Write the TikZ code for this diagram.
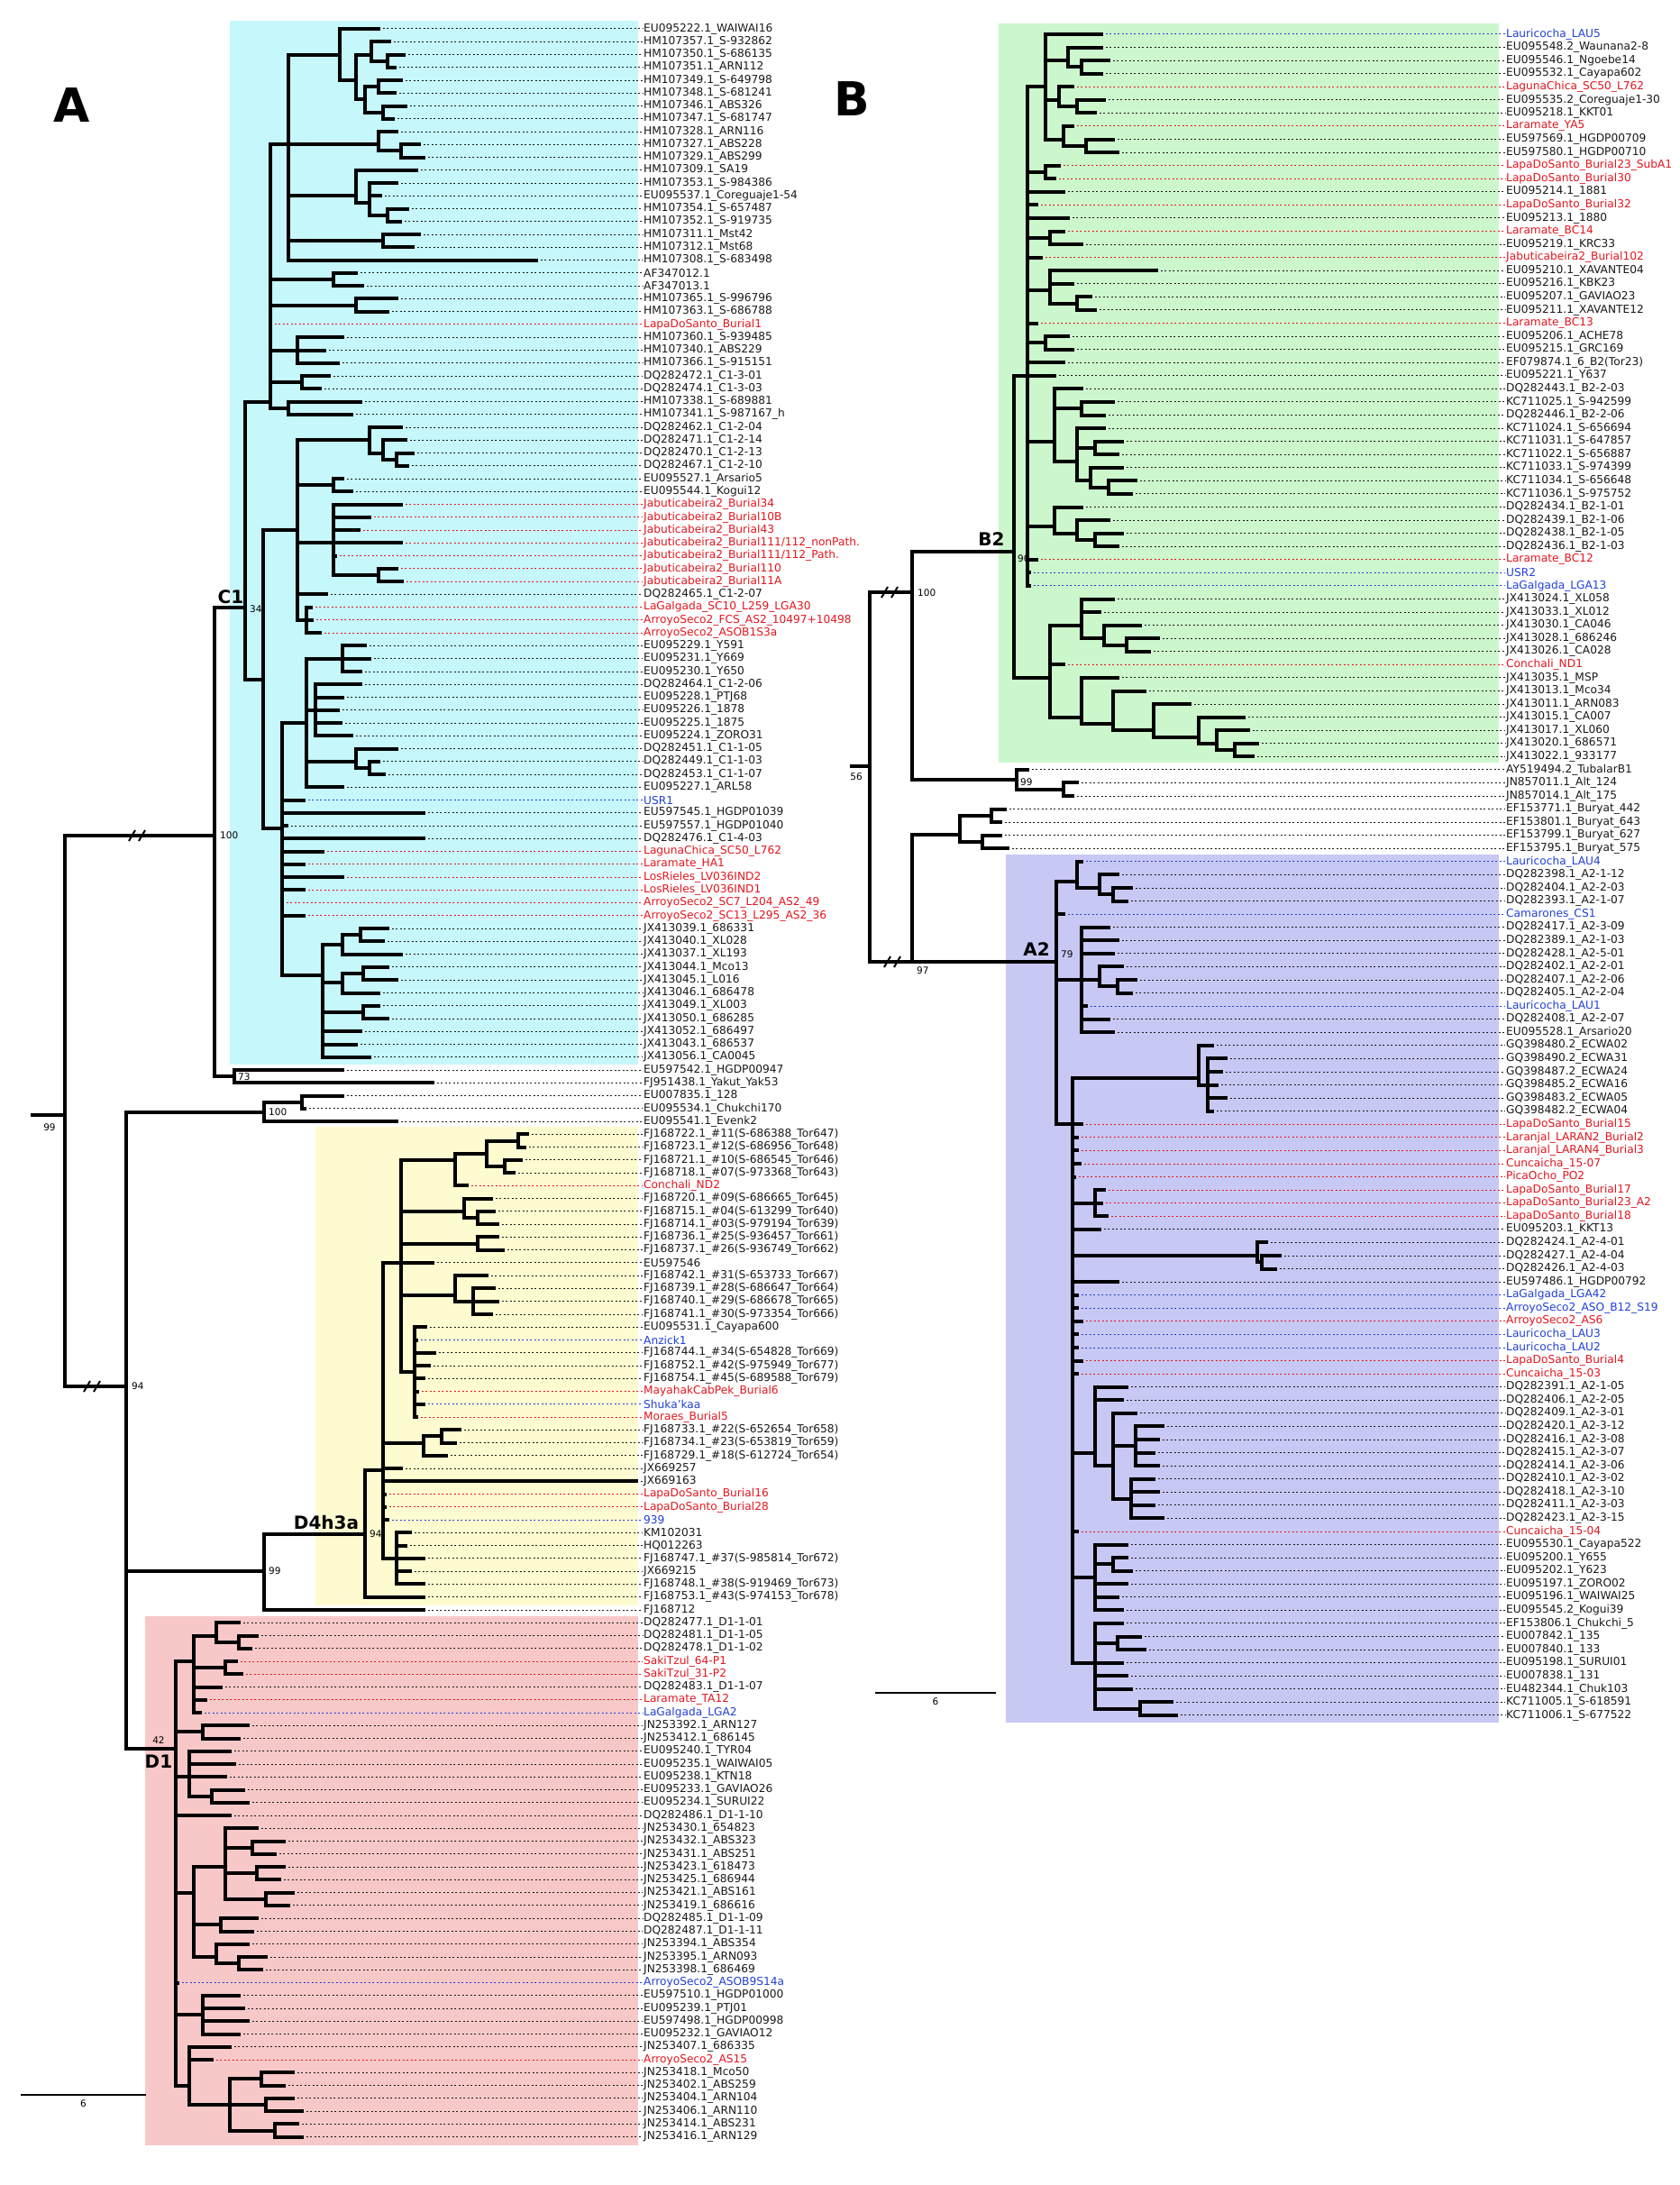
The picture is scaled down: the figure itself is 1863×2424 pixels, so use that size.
\documentclass[tikz,border=0pt]{standalone}
\usepackage{fontspec}
\setmainfont{DejaVu Sans}
\definecolor{lk}{RGB}{25,25,25}
\definecolor{lr}{RGB}{226,22,30}
\definecolor{lb}{RGB}{32,64,214}
\definecolor{boxc}{RGB}{198,247,251}
\definecolor{boxy}{RGB}{255,251,208}
\definecolor{boxp}{RGB}{248,200,200}
\definecolor{boxg}{RGB}{204,247,204}
\definecolor{boxv}{RGB}{200,200,245}

\begin{document}
\begin{tikzpicture}
[x=1pt,y=-1pt,
br/.style={black,line width=4pt,line cap=rect},
lead/.style={line width=1pt,dash pattern=on 2pt off 2.5pt},
lab/.style={anchor=west,inner sep=1pt,font=\fontsize{12.2}{14}\selectfont},
boot/.style={inner sep=1pt,font=\fontsize{10.5}{12}\selectfont},
clade/.style={inner sep=1pt,font=\fontsize{20}{24}\selectfont\bfseries},
panel/.style={inner sep=0pt,font=\fontsize{52}{56}\selectfont\bfseries},
brk/.style={black,line width=2pt},
declare function={ya(\n)=32+(\n-1)*14.26; yb(\n)=38+(\n-1)*14.57;}]
\useasboundingbox (0,0) rectangle (1863,2424);
\fill[white] (0,0) rectangle (1863,2424);
%% clade boxes
\fill[boxc] (255,23) rectangle (708,1181);
\fill[boxy] (350,1250) rectangle (708,1781);
\fill[boxp] (161,1793) rectangle (708,2380);
\fill[boxg] (1108,26) rectangle (1663,846);
\fill[boxv] (1116,948) rectangle (1663,1911);
%%
\node[panel] (pa) at (80,117) {A};
\node[panel] (pb) at (945,110) {B};
%% tree A: leaves
\foreach \col/\pa/\tp/\txt [count=\i] in {
lk/377/420/EU095222.1\_WAIWAI16, lk/412/432/HM107357.1\_S-932862,
lk/430/448/HM107350.1\_S-686135, lk/430/438/HM107351.1\_ARN112,
lk/420/445/HM107349.1\_S-649798, lk/420/438/HM107348.1\_S-681241,
lk/425/450/HM107346.1\_ABS326, lk/425/436/HM107347.1\_S-681747,
lk/420/440/HM107328.1\_ARN116, lk/445/465/HM107327.1\_ABS228,
lk/445/470/HM107329.1\_ABS299, lk/395/462/HM107309.1\_SA19,
lk/410/440/HM107353.1\_S-984386, lk/410/422/EU095537.1\_Coreguaje1-54,
lk/430/452/HM107354.1\_S-657487, lk/430/444/HM107352.1\_S-919735,
lk/425/465/HM107311.1\_Mst42, lk/425/458/HM107312.1\_Mst68,
lk/320/595/HM107308.1\_S-683498, lk/370/395/AF347012.1,
lk/370/402/AF347013.1, lk/395/440/HM107365.1\_S-996796,
lk/395/430/HM107363.1\_S-686788, lr/300/300/LapaDoSanto\_Burial1,
lk/330/380/HM107360.1\_S-939485, lk/330/360/HM107340.1\_ABS229,
lk/330/375/HM107366.1\_S-915151, lk/335/365/DQ282472.1\_C1-3-01,
lk/335/355/DQ282474.1\_C1-3-03, lk/320/400/HM107338.1\_S-689881,
lk/320/390/HM107341.1\_S-987167\_h, lk/410/445/DQ282462.1\_C1-2-04,
lk/425/450/DQ282471.1\_C1-2-14, lk/440/458/DQ282470.1\_C1-2-13,
lk/440/452/DQ282467.1\_C1-2-10, lk/370/380/EU095527.1\_Arsario5,
lk/370/390/EU095544.1\_Kogui12, lr/370/445/Jabuticabeira2\_Burial34,
lr/370/410/Jabuticabeira2\_Burial10B, lr/370/398/Jabuticabeira2\_Burial43,
lr/370/445/{Jabuticabeira2\_Burial111/112\_nonPath.},
lr/370/372/{Jabuticabeira2\_Burial111/112\_Path.},
lr/420/440/Jabuticabeira2\_Burial110, lr/420/446/Jabuticabeira2\_Burial11A,
lk/330/362/DQ282465.1\_C1-2-07, lr/340/345/LaGalgada\_SC10\_L259\_LGA30,
lr/340/346/ArroyoSeco2\_FCS\_AS2\_10497+10498, lr/340/355/ArroyoSeco2\_ASOB1S3a,
lk/380/405/EU095229.1\_Y591, lk/380/410/EU095231.1\_Y669,
lk/380/400/EU095230.1\_Y650, lk/350/400/DQ282464.1\_C1-2-06,
lk/350/380/EU095228.1\_PTJ68, lk/350/375/EU095226.1\_1878,
lk/350/378/EU095225.1\_1875, lk/350/390/EU095224.1\_ZORO31,
lk/395/440/DQ282451.1\_C1-1-05, lk/410/420/DQ282449.1\_C1-1-03,
lk/410/426/DQ282453.1\_C1-1-07, lk/340/380/EU095227.1\_ARL58,
lb/313/337/USR1, lk/313/470/EU597545.1\_HGDP01039,
lk/313/318/EU597557.1\_HGDP01040, lk/313/470/DQ282476.1\_C1-4-03,
lr/313/358/LagunaChica\_SC50\_L762, lr/313/337/Laramate\_HA1,
lr/313/380/LosRieles\_LV036IND2, lr/313/337/LosRieles\_LV036IND1,
lr/313/313/ArroyoSeco2\_SC7\_L204\_AS2\_49, lr/313/337/ArroyoSeco2\_SC13\_L295\_AS2\_36,
lk/400/430/JX413039.1\_686331, lk/400/425/JX413040.1\_XL028,
lk/380/445/JX413037.1\_XL193, lk/403/430/JX413044.1\_Mco13,
lk/403/440/JX413045.1\_L016, lk/380/420/JX413046.1\_686478,
lk/403/420/JX413049.1\_XL003, lk/403/430/JX413050.1\_686285,
lk/358/400/JX413052.1\_686497, lk/358/395/JX413043.1\_686537,
lk/358/410/JX413056.1\_CA0045, lk/260/380/EU597542.1\_HGDP00947,
lk/260/480/FJ951438.1\_Yakut\_Yak53, lk/335/380/EU007835.1\_128,
lk/335/338/EU095534.1\_Chukchi170, lk/293/440/EU095541.1\_Evenk2,
lk/575/585/FJ168722.1\_\#11(S-686388\_Tor647), lk/575/582/FJ168723.1\_\#12(S-686956\_Tor648),
lk/560/578/FJ168721.1\_\#10(S-686545\_Tor646), lk/560/570/FJ168718.1\_\#07(S-973368\_Tor643),
lr/505/518/Conchali\_ND2, lk/515/545/FJ168720.1\_\#09(S-686665\_Tor645),
lk/530/548/FJ168715.1\_\#04(S-613299\_Tor640), lk/530/552/FJ168714.1\_\#03(S-979194\_Tor639),
lk/530/552/FJ168736.1\_\#25(S-936457\_Tor661), lk/530/558/FJ168737.1\_\#26(S-936749\_Tor662),
lk/445/480/EU597546, lk/505/540/FJ168742.1\_\#31(S-653733\_Tor667),
lk/525/548/FJ168739.1\_\#28(S-686647\_Tor664), lk/525/552/FJ168740.1\_\#29(S-686678\_Tor665),
lk/525/545/FJ168741.1\_\#30(S-973354\_Tor666), lk/460/472/EU095531.1\_Cayapa600,
lb/460/462/Anzick1, lk/460/482/FJ168744.1\_\#34(S-654828\_Tor669),
lk/460/476/FJ168752.1\_\#42(S-975949\_Tor677), lk/460/470/FJ168754.1\_\#45(S-689588\_Tor679),
lr/460/463/MayahakCabPek\_Burial6, lb/460/470/Shuka'kaa,
lr/460/462/Moraes\_Burial5, lk/490/510/FJ168733.1\_\#22(S-652654\_Tor658),
lk/490/505/FJ168734.1\_\#23(S-653819\_Tor659), lk/470/495/FJ168729.1\_\#18(S-612724\_Tor654),
lk/425/445/JX669257, lk/425/706/JX669163,
lr/425/427/LapaDoSanto\_Burial16, lr/425/427/LapaDoSanto\_Burial28,
lb/425/430/939, lk/440/455/KM102031,
lk/440/450/HQ012263, lk/440/470/FJ168747.1\_\#37(S-985814\_Tor672),
lk/440/455/JX669215, lk/440/470/FJ168748.1\_\#38(S-919469\_Tor673),
lk/405/470/FJ168753.1\_\#43(S-974153\_Tor678), lk/293/470/FJ168712,
lk/240/265/DQ282477.1\_D1-1-01, lk/265/285/DQ282481.1\_D1-1-05,
lk/265/278/DQ282478.1\_D1-1-02, lr/250/262/SakiTzul\_64-P1,
lr/250/268/SakiTzul\_31-P2, lk/215/245/DQ282483.1\_D1-1-07,
lr/215/228/Laramate\_TA12, lb/215/222/LaGalgada\_LGA2,
lk/225/275/JN253392.1\_ARN127, lk/225/265/JN253412.1\_686145,
lk/210/255/EU095240.1\_TYR04, lk/210/260/EU095235.1\_WAIWAI05,
lk/210/250/EU095238.1\_KTN18, lk/235/270/EU095233.1\_GAVIAO26,
lk/235/275/EU095234.1\_SURUI22, lk/195/255/DQ282486.1\_D1-1-10,
lk/250/285/JN253430.1\_654823, lk/280/315/JN253432.1\_ABS323,
lk/280/305/JN253431.1\_ABS251, lk/285/315/JN253423.1\_618473,
lk/285/310/JN253425.1\_686944, lk/295/325/JN253421.1\_ABS161,
lk/295/320/JN253419.1\_686616, lk/245/285/DQ282485.1\_D1-1-09,
lk/245/280/DQ282487.1\_D1-1-11, lk/240/275/JN253394.1\_ABS354,
lk/265/295/JN253395.1\_ARN093, lk/265/290/JN253398.1\_686469,
lb/195/197/ArroyoSeco2\_ASOB9S14a, lk/225/265/EU597510.1\_HGDP01000,
lk/225/270/EU095239.1\_PTJ01, lk/225/275/EU597498.1\_HGDP00998,
lk/225/265/EU095232.1\_GAVIAO12, lk/210/255/JN253407.1\_686335,
lr/210/235/ArroyoSeco2\_AS15, lk/290/325/JN253418.1\_Mco50,
lk/290/315/JN253402.1\_ABS259, lk/295/325/JN253404.1\_ARN104,
lk/295/335/JN253406.1\_ARN110, lk/305/330/JN253414.1\_ABS231,
lk/305/335/JN253416.1\_ARN129}{
  \node[lab,text=\col] (a\i) at (713,{ya(\i)}) {\txt};
  \draw[lead,draw=\col] (\tp,{ya(\i)}) -- (a\i.west);
  \draw[br] (\pa,{ya(\i)}) -- (\tp,{ya(\i)});
}
%% tree A: inner nodes (x / first row / last row / stem row / parent x)
\foreach \x/\ra/\rb/\rs/\pa in {
72/63.76/106.61/85.5/36, 238/46/82.5/63.76/72, 260/82/83/82.5/238,
272/30/51.6/46/238, 300/10/30.5/30/272, 320/3/19/10/300,
377/1/5/3/320, 395/3/6.5/5/377, 412/2/3.5/3/395, 430/3/4/3.5/412,
405/5.5/7.5/6.5/395, 420/5/6/5.5/405, 425/7/8/7.5/405,
420/9/10.5/10/320, 445/10/11/10.5/420, 395/12/14.5/14/320,
410/13/15.5/14.5/395, 430/15/16/15.5/410, 425/17/18/17.5/320,
370/20/21/20.5/300, 395/22/23/22.5/300, 330/25/27/26/300,
335/28/29/28.5/300, 320/30/31/30.5/300,
292/40/63.2/51.6/272, 330/33/47/40/292, 410/32/34/33/330,
425/33/34.5/34/410, 440/34/35/34.5/425, 370/36/37/36.5/330,
370/38/43.5/41/330, 420/43/44/43.5/370, 340/46/48/47/330,
313/55/74.6/63.2/292, 340/50/60/55/313, 380/49/51/50/340,
350/52/56/54/340, 395/57/58.5/58/340, 410/58/59/58.5/395,
358/72.25/81/74.6/313, 380/71.5/73/72.25/358, 400/71/72/71.5/380,
380/74.5/76/75.2/358, 403/74/75/74.5/380, 403/77/78/77.5/358,
140/85.29/134.8/106.61/72, 293/84.5/86/85.29/140, 335/84/85/84.5/293,
293/118.11/124/120.99/140, 405/113.13/123/118.11/293,
425/97/120/113.13/405, 445/89/105.5/97/425, 505/88.5/91/89/445,
540/87.5/89.5/88.5/505, 575/87/88/87.5/540, 560/89/90/89.5/540,
515/92/93.5/93/445, 530/93/94/93.5/515, 530/95/96/95.5/445,
505/98/100/99.5/445, 525/99/101/100/505, 460/102/109/105.5/445,
470/110.5/112/111/425, 490/110/111/110.5/470, 440/118/122/120/425,
195/128/161/134.8/140, 215/126/132/128/195, 240/125/126.5/126/215,
265/126/127/126.5/240, 250/128/129/128.5/215, 225/133/134/133.5/195,
210/135/138.5/137/195, 235/138/139/138.5/210, 215/144/151/146/195,
250/141/146.5/144/215, 280/142/143/142.5/250, 285/144/145/144.5/250,
295/146/147/146.5/250, 245/148/149/148.5/215, 240/150/151.5/151/215,
265/151/152/151.5/240, 225/154/157/155.5/195, 210/158/162.5/161/195,
255/160.5/164.5/162.5/210, 290/160/161/160.5/255, 295/162/163/162.5/255,
305/164/165/164.5/255}{
  \draw[br] (\x,{ya(\ra)}) -- (\x,{ya(\rb)});
  \draw[br] (\pa,{ya(\rs)}) -- (\x,{ya(\rs)});
}
%% tree B: leaves
\foreach \col/\pa/\tp/\txt [count=\i] in {
lb/1160/1222/Lauricocha\_LAU5, lk/1185/1222/EU095548.2\_Waunana2-8,
lk/1200/1230/EU095546.1\_Ngoebe14, lk/1200/1222/EU095532.1\_Cayapa602,
lr/1175/1190/LagunaChica\_SC50\_L762, lk/1195/1225/EU095535.2\_Coreguaje1-30,
lk/1195/1215/EU095218.1\_KKT01, lr/1180/1190/Laramate\_YA5,
lk/1205/1235/EU597569.1\_HGDP00709, lk/1205/1240/EU597580.1\_HGDP00710,
lr/1160/1175/LapaDoSanto\_Burial23\_SubA1, lr/1160/1170/LapaDoSanto\_Burial30,
lk/1140/1180/EU095214.1\_1881, lr/1140/1150/LapaDoSanto\_Burial32,
lk/1140/1185/EU095213.1\_1880, lr/1165/1180/Laramate\_BC14,
lk/1165/1200/EU095219.1\_KRC33, lr/1140/1155/Jabuticabeira2\_Burial102,
lk/1165/1283/EU095210.1\_XAVANTE04, lk/1165/1190/EU095216.1\_KBK23,
lk/1195/1210/EU095207.1\_GAVIAO23, lk/1195/1215/EU095211.1\_XAVANTE12,
lr/1140/1150/Laramate\_BC13, lk/1160/1185/EU095206.1\_ACHE78,
lk/1160/1190/EU095215.1\_GRC169, lk/1140/1180/EF079874.1\_6\_B2(Tor23),
lk/1140/1170/EU095221.1\_Y637, lk/1170/1200/DQ282443.1\_B2-2-03,
lk/1200/1235/KC711025.1\_S-942599, lk/1200/1225/DQ282446.1\_B2-2-06,
lk/1195/1225/KC711024.1\_S-656694, lk/1215/1245/KC711031.1\_S-647857,
lk/1215/1240/KC711022.1\_S-656887, lk/1210/1245/KC711033.1\_S-974399,
lk/1230/1260/KC711034.1\_S-656648, lk/1230/1255/KC711036.1\_S-975752,
lk/1170/1200/DQ282434.1\_B2-1-01, lk/1195/1230/DQ282439.1\_B2-1-06,
lk/1215/1245/DQ282438.1\_B2-1-05, lk/1215/1240/DQ282436.1\_B2-1-03,
lr/1140/1150/Laramate\_BC12, lb/1140/1142/USR2,
lb/1140/1142/LaGalgada\_LGA13, lk/1200/1235/JX413024.1\_XL058,
lk/1200/1220/JX413033.1\_XL012, lk/1225/1265/JX413030.1\_CA046,
lk/1250/1285/JX413028.1\_686246, lk/1250/1275/JX413026.1\_CA028,
lr/1165/1180/Conchali\_ND1, lk/1200/1240/JX413035.1\_MSP,
lk/1235/1270/JX413013.1\_Mco34, lk/1280/1320/JX413011.1\_ARN083,
lk/1330/1380/JX413015.1\_CA007, lk/1350/1385/JX413017.1\_XL060,
lk/1370/1395/JX413020.1\_686571, lk/1370/1390/JX413022.1\_933177,
lk/1128/1140/AY519494.2\_TubalarB1, lk/1180/1195/JN857011.1\_Alt\_124,
lk/1180/1190/JN857014.1\_Alt\_175, lk/1100/1115/EF153771.1\_Buryat\_442,
lk/1100/1110/EF153801.1\_Buryat\_643, lk/1090/1110/EF153799.1\_Buryat\_627,
lk/1090/1118/EF153795.1\_Buryat\_575, lb/1195/1200/Lauricocha\_LAU4,
lk/1220/1240/DQ282398.1\_A2-1-12, lk/1235/1255/DQ282404.1\_A2-2-03,
lk/1235/1250/DQ282393.1\_A2-1-07, lb/1172/1180/Camarones\_CS1,
lk/1200/1230/DQ282417.1\_A2-3-09, lk/1200/1240/DQ282389.1\_A2-1-03,
lk/1200/1235/DQ282428.1\_A2-5-01, lk/1220/1245/DQ282402.1\_A2-2-01,
lk/1240/1260/DQ282407.1\_A2-2-06, lk/1240/1255/DQ282405.1\_A2-2-04,
lb/1200/1205/Lauricocha\_LAU1, lk/1200/1230/DQ282408.1\_A2-2-07,
lk/1200/1235/EU095528.1\_Arsario20, lk/1330/1345/GQ398480.2\_ECWA02,
lk/1340/1360/GQ398490.2\_ECWA31, lk/1340/1355/GQ398487.2\_ECWA24,
lk/1340/1350/GQ398485.2\_ECWA16, lk/1340/1360/GQ398483.2\_ECWA05,
lk/1340/1345/GQ398482.2\_ECWA04, lr/1190/1200/LapaDoSanto\_Burial15,
lr/1190/1195/Laranjal\_LARAN2\_Burial2, lr/1190/1195/Laranjal\_LARAN4\_Burial3,
lr/1190/1198/Cuncaicha\_15-07, lr/1190/1192/PicaOcho\_PO2,
lr/1215/1225/LapaDoSanto\_Burial17, lr/1215/1222/LapaDoSanto\_Burial23\_A2,
lr/1215/1228/LapaDoSanto\_Burial18, lk/1190/1220/EU095203.1\_KKT13,
lk/1395/1405/DQ282424.1\_A2-4-01, lk/1400/1420/DQ282427.1\_A2-4-04,
lk/1400/1415/DQ282426.1\_A2-4-03, lk/1190/1240/EU597486.1\_HGDP00792,
lb/1190/1195/LaGalgada\_LGA42, lb/1190/1195/ArroyoSeco2\_ASO\_B12\_S19,
lr/1190/1200/ArroyoSeco2\_AS6, lb/1190/1195/Lauricocha\_LAU3,
lb/1190/1195/Lauricocha\_LAU2, lr/1190/1200/LapaDoSanto\_Burial4,
lr/1190/1195/Cuncaicha\_15-03, lk/1215/1250/DQ282391.1\_A2-1-05,
lk/1215/1245/DQ282406.1\_A2-2-05, lk/1235/1260/DQ282409.1\_A2-3-01,
lk/1260/1290/DQ282420.1\_A2-3-12, lk/1260/1285/DQ282416.1\_A2-3-08,
lk/1260/1280/DQ282415.1\_A2-3-07, lk/1260/1285/DQ282414.1\_A2-3-06,
lk/1255/1280/DQ282410.1\_A2-3-02, lk/1255/1285/DQ282418.1\_A2-3-10,
lk/1255/1280/DQ282411.1\_A2-3-03, lk/1255/1290/DQ282423.1\_A2-3-15,
lr/1190/1195/Cuncaicha\_15-04, lk/1215/1250/EU095530.1\_Cayapa522,
lk/1235/1250/EU095200.1\_Y655, lk/1235/1255/EU095202.1\_Y623,
lk/1215/1250/EU095197.1\_ZORO02, lk/1215/1240/EU095196.1\_WAIWAI25,
lk/1215/1245/EU095545.2\_Kogui39, lk/1215/1245/EF153806.1\_Chukchi\_5,
lk/1240/1265/EU007842.1\_135, lk/1240/1270/EU007840.1\_133,
lk/1215/1245/EU095198.1\_SURUI01, lk/1215/1250/EU007838.1\_131,
lk/1215/1255/EU482344.1\_Chuk103, lk/1265/1300/KC711005.1\_S-618591,
lk/1265/1305/KC711006.1\_S-677522}{
  \node[lab,text=\col] (b\i) at (1670,{yb(\i)}) {\txt};
  \draw[lead,draw=\col] (\tp,{yb(\i)}) -- (b\i.west);
  \draw[br] (\pa,{yb(\i)}) -- (\tp,{yb(\i)});
}
%% tree B: inner nodes
\foreach \x/\ra/\rb/\rs/\pa in {
965/43.48/71.62/56.73/945, 1012/40.40/57.76/43.48/965, 1012/61.95/71.62/71.62/965,
1125/27/50/40.40/1012, 1140/5/43/27/1125, 1160/1/9/5/1140,
1185/2/3.5/3/1160, 1200/3/4/3.5/1185, 1175/5/6.5/6/1160,
1195/6/7/6.5/1175, 1180/8/9.5/9/1160, 1205/9/10/9.5/1180,
1160/11/12/11.5/1140, 1165/16/17/16.5/1140, 1165/19/21.5/20.5/1140,
1195/21/22/21.5/1165, 1160/24/25/24.5/1140, 1170/28/33.5/32/1140,
1200/29/30/29.5/1170, 1195/31/35/33.5/1170, 1215/32/33/32.5/1195,
1210/34/35.5/35/1195, 1230/35/36/35.5/1210, 1170/37/39/38.5/1140,
1195/38/39.5/39/1170, 1215/39/40/39.5/1195,
1165/46/53/50/1125, 1200/44/47/46/1165, 1225/46/47.5/47/1200,
1250/47/48/47.5/1225, 1200/50/53.5/53/1165, 1235/51/54/53.5/1200,
1280/52/54.5/54/1235, 1330/53/55/54.5/1280, 1350/54/55.5/55/1330,
1370/55/56/55.5/1350,
1128/57/58.5/57.76/1012, 1180/58/59/58.5/1128,
1065/60.5/62.5/61.95/1012, 1100/60/61/60.5/1065, 1090/62/63/62.5/1065,
1172/65.5/84/71.62/1012, 1195/64/66/65.5/1172, 1220/65/66.5/66/1195,
1235/66/67/66.5/1220, 1200/69/77/73/1172, 1220/72/73.5/73/1200,
1240/73/74/73.5/1220, 1190/80.5/125/84/1172, 1330/78/81/80.5/1190,
1340/79/83/81/1330, 1215/89/91/90/1190, 1395/93/94.5/94/1190,
1400/94/95/94.5/1395, 1215/104/110/109/1190, 1235/106/112.5/110/1215,
1260/107/110/108.5/1235, 1255/111/114/112.5/1235, 1215/116/121/118.5/1190,
1235/117/118/117.5/1215, 1215/122/128.5/125/1190, 1240/123/124/123.5/1215,
1265/128/129/128.5/1215}{
  \draw[br] (\x,{yb(\ra)}) -- (\x,{yb(\rb)});
  \draw[br] (\pa,{yb(\rs)}) -- (\x,{yb(\rs)});
}
%% long-branch breaks
\foreach \bx/\by in {152/927, 102/1538, 987/657, 990/1067}
  \draw[brk] (\bx-9,\by+6) -- (\bx-2,\by-6) (\bx+2,\by+6) -- (\bx+9,\by-6);
%% support values and clade names
\node[boot,anchor=north] (s99a) at (55,1245) {99};
\node[boot,anchor=west] (s100a) at (243,927) {100};
\node[boot,anchor=west] (s73) at (263,1195) {73};
\node[boot,anchor=west] (s34) at (276,676) {34};
\node[boot,anchor=west] (s100b) at (297,1234) {100};
\node[boot,anchor=west] (s94a) at (145,1538) {94};
\node[boot,anchor=west] (s99b) at (297,1743) {99};
\node[boot,anchor=west] (s94b) at (409,1702) {94};
\node[boot,anchor=south] (s42) at (176,1936) {42};
\node[clade,anchor=south] (c1) at (256,671) {C1};
\node[clade,anchor=south] (d4) at (362,1698) {D4h3a};
\node[clade,anchor=north] (d1) at (176,1946) {D1};
\node[boot,anchor=north] (s56) at (950,856) {56};
\node[boot,anchor=west] (s100c) at (1017,658) {100};
\node[boot,anchor=north west] (s90) at (1128,615) {90};
\node[boot,anchor=north west] (s99c) at (1131,862) {99};
\node[boot,anchor=north west] (s97) at (1016,1071) {97};
\node[boot,anchor=west] (s79) at (1176,1059) {79};
\node[clade,anchor=south] (b2) at (1100,607) {B2};
\node[clade,anchor=south] (a2) at (1150,1062) {A2};
%% scale bars
\draw[black,line width=1.5pt] (23,2324) -- (162,2324) node[boot,midway,below=4pt] (sa) {6};
\draw[black,line width=1.5pt] (971,1878) -- (1105,1878) node[boot,midway,below=4pt] (sb) {6};
\end{tikzpicture}
\end{document}
